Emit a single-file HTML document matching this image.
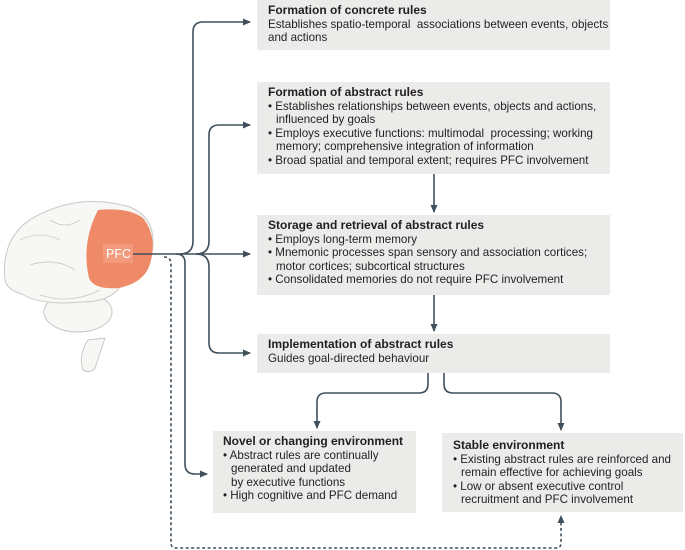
<!DOCTYPE html>
<html><head><meta charset="utf-8"><style>
body{margin:0;width:685px;height:550px;background:#fff;position:relative;overflow:hidden;font-family:"Liberation Sans",sans-serif;color:#231f20}
.b{position:absolute;background:#ebebe9;font-size:11.6px;line-height:13.6px;padding:4px 0 0 11px;box-sizing:border-box}
.b h{display:block;font-weight:bold;font-size:12px}
.i{padding-left:8px;text-indent:-8px}
svg{position:absolute;left:0;top:0}
</style></head><body>
<div class="b" style="left:257px;top:0;width:353px;height:50px"><h>Formation of concrete rules</h>Establishes spatio-temporal&nbsp; associations between events, objects and actions</div>
<div class="b" style="left:257px;top:82px;width:353px;height:92px"><h>Formation of abstract rules</h><div class="i">• Establishes relationships between events, objects and actions, influenced by goals</div><div class="i">• Employs executive functions: multimodal&nbsp; processing; working memory; comprehensive integration of information</div><div class="i">• Broad spatial and temporal extent; requires PFC involvement</div></div>
<div class="b" style="left:257px;top:215px;width:353px;height:80px"><h>Storage and retrieval of abstract rules</h><div class="i">• Employs long-term memory</div><div class="i">• Mnemonic processes span sensory and association cortices; motor cortices; subcortical structures</div><div class="i">• Consolidated memories do not require PFC involvement</div></div>
<div class="b" style="left:257px;top:334px;width:353px;height:39px"><h>Implementation of abstract rules</h>Guides goal-directed behaviour</div>
<div class="b" style="left:213px;top:431px;width:203px;height:82px;padding-left:10px"><h>Novel or changing environment</h><div class="i">• Abstract rules are continually generated and updated<br>by executive functions</div><div class="i">• High cognitive and PFC demand</div></div>
<div class="b" style="left:442px;top:433px;width:241px;height:79px;padding-top:6px"><h>Stable environment</h><div class="i">• Existing abstract rules are reinforced and remain effective for achieving goals</div><div class="i">• Low or absent executive control recruitment and PFC involvement</div></div>
<svg width="685" height="550">
<defs><marker id="a" markerWidth="8" markerHeight="8" refX="7" refY="4" orient="auto" markerUnits="userSpaceOnUse"><path d="M0,0.5 L8,4 L0,7.5z" fill="#3f505c"/></marker></defs>
<!-- brain -->
<g stroke="#c9c9c6" stroke-width="1" fill="#f7f7f5">
<path d="M88,340 q-10,15 -5,30 q8,4 12,-2 q5,-15 10,-30z"/>
<ellipse cx="78" cy="312" rx="34" ry="20"/>
<path d="M5,280 q-5,-50 40,-68 q40,-18 85,-5 q28,12 22,45 q-3,25 -30,32 q-10,18 -40,18 q-40,4 -60,-8 q-15,-4 -17,-14z"/>
</g>
<path d="M98,210 q30,-3 45,8 q14,18 8,42 q-4,22 -32,28 q-25,2 -30,-10 q-8,-35 9,-68z" fill="#ef8a68"/>
<rect x="103" y="244" width="30" height="19" fill="#f29a7b"/>
<text x="106" y="258" font-family="Liberation Sans" font-size="12.5" fill="#fff">PFC</text>
<g fill="none" stroke="#c9c9c6" stroke-width="0.8">
<path d="M20,240 q20,-10 40,0 M30,265 q25,-8 45,5 M50,220 q15,10 30,0 M40,295 q30,10 60,-5"/>
</g>
<!-- connectors -->
<g fill="none" stroke="#3f505c" stroke-width="1.6">
<path d="M133,254 H250" marker-end="url(#a)"/>
<path d="M180,254 q13,0 13,-13 V32 q0,-10 10,-10 H250" marker-end="url(#a)"/>
<path d="M196,254 q13,0 13,-13 V135 q0,-10 10,-10 H250" marker-end="url(#a)"/>
<path d="M196,254 q13,0 13,13 V343 q0,10 10,10 H250" marker-end="url(#a)"/>
<path d="M176,254 q9,0 9,9 V464 q0,10 10,10 H207" marker-end="url(#a)"/>
<path d="M434,174 V212" marker-end="url(#a)"/>
<path d="M434,295 V331" marker-end="url(#a)"/>
<path d="M428,373 V384 q0,9 -9,9 H326 q-9,0 -9,9 V428" marker-end="url(#a)"/>
<path d="M444,373 V384 q0,9 9,9 H552 q9,0 9,9 V430" marker-end="url(#a)"/>
<path d="M164,257 q7,0 7,7 V543 q0,5 5,5 H556 q5,0 5,-5 V516" stroke-dasharray="3,2.5" marker-end="url(#a)"/>
</g>
</svg>
</body></html>
